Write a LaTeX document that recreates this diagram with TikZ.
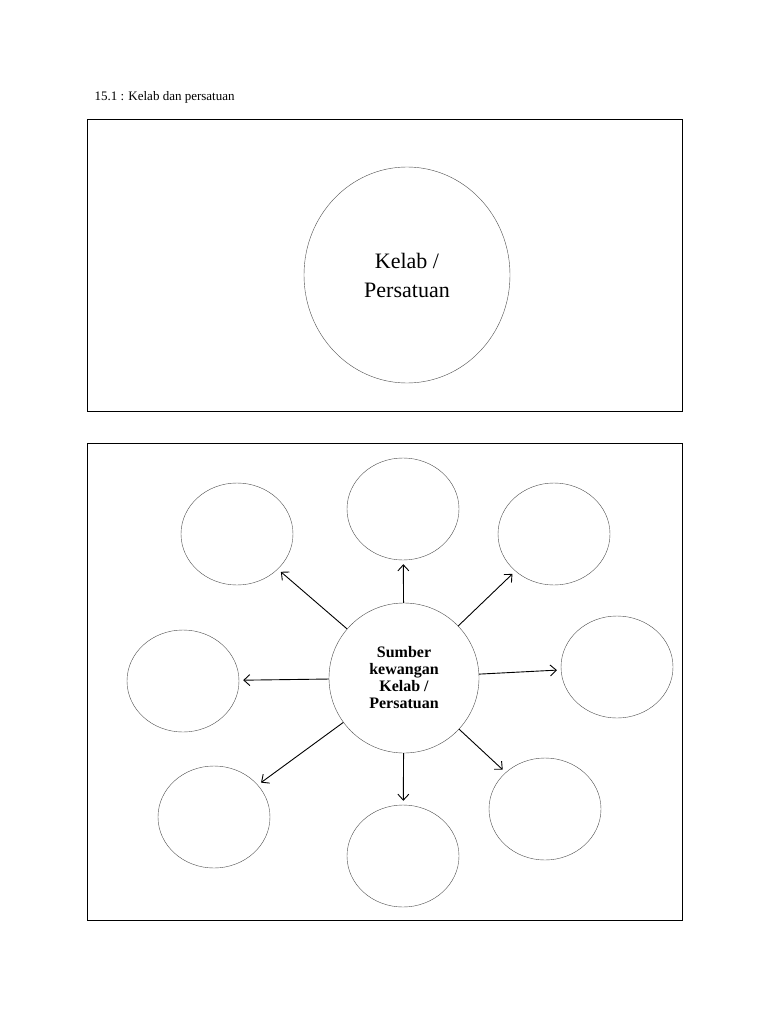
\documentclass[tikz,border=0pt]{standalone}
\usepackage{fontspec}
\setmainfont{Liberation Serif}
\usetikzlibrary{shapes.geometric,arrows.meta}
\tikzstyle{frame}=[draw,line width=0.8pt]
\tikzstyle{blank}=[shape=ellipse,draw=black!70,minimum width=112pt,minimum height=102pt,inner sep=0pt]
\tikzstyle{hub}=[shape=circle,draw=black!70,minimum size=150pt,align=center,font=\fontsize{16}{17}\selectfont\bfseries]
\tikzstyle{spoke}=[-{Straight Barb[length=6pt,width=11pt]},line width=0.9pt,shorten >=4pt]
\begin{document}
\begin{tikzpicture}[x=1pt,y=-1pt]
\useasboundingbox (0,0) rectangle (768,1024);
% top panel
\node[anchor=west,font=\fontsize{13}{14}\selectfont] (title) at (91,97) {15.1 : Kelab dan persatuan};
\draw[frame] (87,119) rectangle (682,411);
\node[shape=ellipse,draw=black!70,minimum width=206pt,minimum height=216pt,align=center,
  font=\fontsize{22}{29}\selectfont] (club) at (407,275) {Kelab /\\Persatuan};
% bottom panel
\draw[frame] (87,443) rectangle (682,920);
\node[hub] (c) at (404,678) {Sumber\\kewangan\\Kelab /\\Persatuan};
\node[blank] (t) at (403,509) {};
\node[blank] (tl) at (237,534) {};
\node[blank] (tr) at (554,534) {};
\node[blank] (l) at (183,681) {};
\node[blank] (r) at (617,667) {};
\node[blank] (bl) at (214,817) {};
\node[blank] (b) at (403,856) {};
\node[blank] (br) at (545,809) {};
% spokes
\foreach \n in {t,tl,tr,l,r,bl,b,br}
  \draw[spoke] (c) -- (\n);
\end{tikzpicture}
\end{document}
